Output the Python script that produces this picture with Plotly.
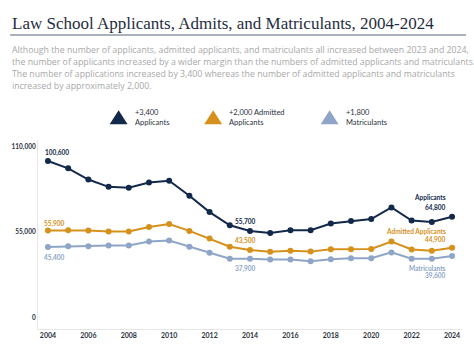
import plotly.graph_objects as go

years = list(range(2004, 2025))
applicants = [100600, 95900, 88700, 84000, 83400, 86800, 87900, 78300, 67800, 59300,
              55700, 54400, 56100, 56100, 60500, 62000, 63300, 70800, 62400, 61400, 64800]
admitted = [55900, 56100, 56000, 55400, 55400, 58200, 60100, 55700, 50800, 45500,
            43500, 42300, 42900, 42400, 43900, 43900, 44100, 48900, 43800, 42900, 44900]
matriculants = [45400, 45800, 45900, 46400, 46400, 48900, 49600, 45600, 41600, 37900,
                37900, 37300, 37300, 36200, 37500, 38100, 38100, 41900, 37900, 37800, 39600]
x_ticks = list(range(2004, 2025, 2))
y_ticks = [0, 55000, 110000]
y_ticktext = ["0", "55,000", "110,000"]

title = "Law School Applicants, Admits, and Matriculants, 2004-2024"
subtitle_lines = [
    "Although the number of applicants, admitted applicants, and matriculants all increased between 2023 and 2024,",
    "the number of applicants increased by a wider margin than the numbers of admitted applicants and matriculants.",
    "The number of applications increased by 3,400 whereas the number of admitted applicants and matriculants",
    "increased by approximately 2,000.",
]
legend_items = [("+3,400<br>Applicants", "navy"), ("+2,000 Admitted<br>Applicants", "gold"),
                ("+1,800<br>Matriculants", "blue")]

NAVY = "#12294a"
GOLD = "#d6911d"
BLUE = "#8ea5c8"
cmap = {"navy": NAVY, "gold": GOLD, "blue": BLUE}

W, H = 474, 351
L, R, T, B = 36, 12, 140, 20
PW, PH = W - L - R, H - T - B

def px(xp):
    return (xp - L) / PW

def py(yp):
    return (H - B - yp) / PH

fig = go.Figure()
for vals, col in [(applicants, NAVY), (admitted, GOLD), (matriculants, BLUE)]:
    fig.add_trace(go.Scatter(x=years, y=vals, mode="lines+markers",
                             line=dict(color=col, width=2),
                             marker=dict(color=col, size=6),
                             showlegend=False, hoverinfo="skip"))

FONT = "Lato"
ann = []
# title & subtitle
ann.append(dict(text=title, x=px(8), y=py(22), xref="paper", yref="paper",
                xanchor="left", yanchor="middle", showarrow=False,
                font=dict(family="Liberation Serif", size=17, color="#1f2d40")))
for i, line in enumerate(subtitle_lines):
    ann.append(dict(text=line, x=px(8), y=py(49 + 12 * i), xref="paper", yref="paper",
                    xanchor="left", yanchor="middle", showarrow=False,
                    font=dict(family="Open Sans", size=8.75, color="#a8a8a8")))

# legend
tri_centers = [117, 212, 329]
shapes = [dict(type="line", xref="paper", yref="paper", x0=px(8), x1=px(466),
               y0=py(34), y1=py(34), line=dict(color="#8d97a3", width=1.5))]
for (txt, key), cx in zip(legend_items, tri_centers):
    shapes.append(dict(type="path", xref="paper", yref="paper",
                       path=f"M {px(cx)} {py(110)} L {px(cx + 9)} {py(124)} L {px(cx - 9)} {py(124)} Z",
                       fillcolor=cmap[key], line=dict(width=0)))
    ann.append(dict(text=txt, x=px(cx + 14), y=py(117.5), xref="paper", yref="paper",
                    xanchor="left", yanchor="middle", align="left", showarrow=False,
                    font=dict(family=FONT, size=7.5, color="#2a3340")))

# data labels
def lab(text, xv, yv, col, xanchor, xshift, yshift):
    ann.append(dict(text=text, x=xv, y=yv, xref="x", yref="y", xanchor=xanchor,
                    yanchor="middle", xshift=xshift, yshift=yshift, showarrow=False,
                    font=dict(family=FONT, size=6.5, color=col, weight="bold")))

i04, i14, i24 = 0, 10, 20
lab(f"{applicants[i04]:,}", 2004, applicants[i04], NAVY, "left", -5, 8)
lab(f"{admitted[i04]:,}", 2004, admitted[i04], GOLD, "left", -6, 7)
lab(f"{matriculants[i04]:,}", 2004, matriculants[i04], BLUE, "left", -6, -11)
lab(f"{applicants[i14]:,}", 2014, applicants[i14], NAVY, "center", -5, 9)
lab(f"{admitted[i14]:,}", 2014, admitted[i14], GOLD, "center", -5, 9)
lab(f"{matriculants[i14]:,}", 2014, matriculants[i14], BLUE, "center", -5, -10)
lab("Applicants", 2024, applicants[i24], NAVY, "right", -4, 19)
lab(f"{applicants[i24]:,}", 2024, applicants[i24], NAVY, "right", -4, 9)
lab("Admitted Applicants", 2024, admitted[i24], GOLD, "right", -4, 16)
lab(f"{admitted[i24]:,}", 2024, admitted[i24], GOLD, "right", -4, 8)
lab("Matriculants", 2024, matriculants[i24], BLUE, "right", -4, -13)
lab(f"{matriculants[i24]:,}", 2024, matriculants[i24], BLUE, "right", -4, -20)

a0, b0 = 319.5, 1.573 / 1000
y_lo = (a0 - (H - B)) / b0
y_hi = (a0 - T) / b0
x_per = 20.3
fig.update_layout(
    width=W, height=H, margin=dict(l=L, r=R, t=T, b=B),
    paper_bgcolor="white", plot_bgcolor="white",
    annotations=ann, shapes=shapes,
    xaxis=dict(range=[2004 - 10 / x_per, 2024 + 10 / x_per], tickvals=x_ticks,
               showgrid=False, zeroline=False, showline=True, linecolor="#e6e6e6",
               ticks="", tickfont=dict(family=FONT, size=7, color="#2a3340", weight="bold")),
    yaxis=dict(range=[y_lo, y_hi], tickvals=y_ticks, ticktext=y_ticktext,
               showgrid=False, zeroline=False, showline=True, linecolor="#e6e6e6",
               ticks="", tickfont=dict(family=FONT, size=6.5, color="#2a3340", weight="bold")),
)
fig.write_html("out.html")
